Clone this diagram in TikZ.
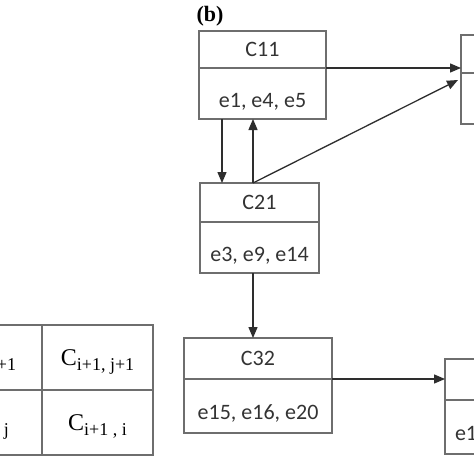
\documentclass[tikz,border=0pt]{standalone}
\usepackage{fontspec}
\setmainfont{Liberation Serif}
\newfontfamily\boxfont{Carlito}
\usetikzlibrary{positioning,arrows.meta,calc}
\definecolor{boxgray}{HTML}{6E6E6E}
\definecolor{arrgray}{HTML}{2E2E2E}
\definecolor{txtgray}{HTML}{333333}
\newcommand{\cellid}[1]{{\fontsize{24}{28}\selectfont C}\raisebox{-5pt}{\fontsize{18}{21}\selectfont #1}}

\begin{document}
\begin{tikzpicture}[x=1pt, y=-1pt,
    hdr/.style={draw=boxgray, line width=1.2pt, inner sep=0pt, outer sep=0pt, text=txtgray, font=\boxfont\fontsize{22}{26}\selectfont},
    bdy/.style={hdr, text height=27pt, text depth=0pt},
    cell/.style={draw=boxgray, line width=1.3pt, minimum width=111pt, minimum height=65pt, inner sep=0pt, outer sep=0pt, text height=15pt, text depth=0pt},
    link/.style={-{Triangle[length=11pt, width=9pt]}, line width=1.3pt, draw=arrgray},
]
\useasboundingbox (0,0) rectangle (474,474);
\clip (0,0) rectangle (474,474);

% (a) grid of cells
\node[cell, anchor=north west] (cij1) at (-69,325) {\hspace*{5pt}\cellid{i, j+1}};
\node[cell, anchor=north west] (ci1j1) at (42,325) {\cellid{i+1, j+1}};
\node[cell, below=0pt of cij1] (cij) {\hspace*{5pt}\cellid{i , j}};
\node[cell, below=0pt of ci1j1] (ci1j) {\cellid{i+1 , i}};

% (b) cell graph
\node[font=\bfseries\fontsize{22}{26}\selectfont] (lblb) at (210,16) {(b)};

\node[hdr, minimum width=127pt, minimum height=37pt, anchor=north west] (c11h) at (199,31) {C11};
\node[bdy, minimum width=127pt, minimum height=51pt, below=0pt of c11h] (c11b) {e1, e4, e5};

\node[hdr, minimum width=119pt, minimum height=39pt, anchor=north west] (c21h) at (200,183) {C21};
\node[bdy, minimum width=119pt, minimum height=51pt, below=0pt of c21h] (c21b) {e3, e9, e14};

\node[hdr, minimum width=148pt, minimum height=41pt, anchor=north west] (c32h) at (184,338) {C32};
\node[bdy, minimum width=148pt, minimum height=54pt, below=0pt of c32h] (c32b) {e15, e16, e20};

\node[hdr, minimum width=127pt, minimum height=38pt, anchor=north west] (rth) at (461,35) {};
\node[bdy, minimum width=127pt, minimum height=51pt, below=0pt of rth] (rtb) {};

\node[hdr, minimum width=148pt, minimum height=41pt, anchor=north west] (rbh) at (445,359) {};
\node[bdy, text width=128pt, inner xsep=10pt, align=left, minimum height=54pt, below=0pt of rbh] (rbb) {e1};

\coordinate (lcol) at (222,0);
\coordinate (rcol) at (253,0);
\coordinate (rtin) at ($(rtb.north west)+(-3,7)$);

\draw[link] (c11b.south -| lcol) -- (c21h.north -| lcol);
\draw[link] (c21h.north -| rcol) -- (c11b.south -| rcol);
\draw[link] (c21h.north -| rcol) -- (rtin);
\draw[link] (c11h.south east) -- (c11h.south east -| rth.west);
\draw[link] (c21b.south -| rcol) -- (c32h.north -| rcol);
\draw[link] (c32h.south east) -- (c32h.south east -| rbh.west);
\end{tikzpicture}
\end{document}
